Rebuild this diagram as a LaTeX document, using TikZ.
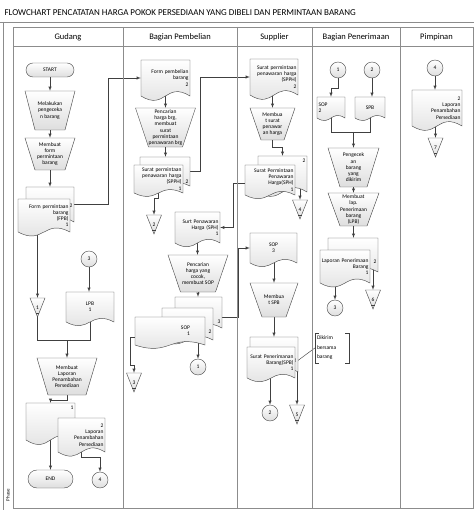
\documentclass[tikz,border=0pt]{standalone}
\usepackage{fontspec}
\setmainfont{Carlito}
\pgfdeclarelayer{latar}
\pgfsetlayers{latar,main}

% dokumen: [opsi]{nama}{x1}{y1}{x2}{y2}{teks}
\newcommand{\dokumen}[7][]{%
  \pgfmathsetmacro{\dokW}{#5-#3}%
  \pgfmathsetmacro{\dokH}{#6-#4}%
  \pgfmathsetmacro{\dokD}{0.42*\dokH}%
  \pgfmathsetmacro{\dokT}{\dokW-3}%
  \path[bentuk] (#3,#4) -- (#5,#4) -- (#5,#6)
    .. controls ({#5-0.5*\dokW},{#6-\dokD}) and ({#3+0.5*\dokW},{#6+\dokD}) .. (#3,#6) -- cycle;
  \node[isi,inner xsep=1.5pt,align=right,text width=\dokT pt,minimum width=\dokW pt,minimum height=\dokH pt,#1]
    (#2) at ({(#3+#5)/2},{(#4+#6)/2}) {#7};
}
% manual: {nama}{x}{atas}{bawah}{lebar atas}{lebar bawah}{teks}
\newcommand{\manual}[7]{%
  \pgfmathsetmacro{\manH}{#4-#3}%
  \path[bentuk] ({#2-#5/2},#3) -- ({#2+#5/2},#3) -- ({#2+#6/2},#4) -- ({#2-#6/2},#4) -- cycle;
  \node[isi,align=center,minimum width=#6pt,minimum height=\manH pt] (#1) at (#2,{(#3+#4)/2}) {#7};
}
% arsip: {nama}{x}{atas}{nomor}
\newcommand{\arsip}[4]{%
  \path[bentuk] ({#2-7.5},#3) -- ({#2+7.5},#3) -- (#2,{#3+19}) -- cycle;
  \draw[garis] ({#2-1.7},{#3+15}) -- ({#2+1.7},{#3+15});
  \node[isi,minimum width=15pt,minimum height=19pt] (#1) at (#2,{#3+9.5}) {#4};
}

\begin{document}
\begin{tikzpicture}[x=1pt,y=-1pt,
  bingkai/.style={draw=black!45,line width=0.5pt},
  garis/.style={draw=black!75,line width=0.45pt},
  alur/.style={garis,-latex},
  bentuk/.style={draw=black!70,line width=0.45pt,top color=white,bottom color=black!13},
  isi/.style={font=\fontsize{5.5}{6.2}\selectfont,inner sep=0pt},
  nomor/.style={isi,anchor=east,xshift=-1.5pt},
  terminal/.style={bentuk,isi,rectangle,rounded corners=7pt,minimum width=48pt,minimum height=14pt},
  sambung/.style={bentuk,isi,circle,minimum size=16pt},
  jalur/.style={font=\fontsize{8.5}{9}\selectfont}]
\useasboundingbox (0,0) rectangle (474,510);

\draw[bingkai] (0,22) -- (474,22);
\draw[bingkai] (3,22) -- (3,510);
\draw[bingkai] (13,27) rectangle (473,508);
\draw[bingkai] (13,46) -- (473,46);
\foreach \x in {123,237,312,400}
  \draw[bingkai] (\x,27) -- (\x,508);
\node[anchor=west,font=\fontsize{9}{10}\selectfont] (judul) at (1,13)
  {FLOWCHART PENCATATAN HARGA POKOK PERSEDIAAN YANG DIBELI DAN PERMINTAAN BARANG};
\node[jalur] (gudang) at (68,37) {Gudang};
\node[jalur] (pembelian) at (180,37) {Bagian Pembelian};
\node[jalur] (supplier) at (274.5,37) {Supplier};
\node[jalur] (penerimaan) at (356,37) {Bagian Penerimaan};
\node[jalur] (pimpinan) at (436.5,37) {Pimpinan};
\node[rotate=90,font=\fontsize{5}{6}\selectfont] (fase) at (8,495) {Phase};

% Gudang
\node[terminal] (mulai) at (50,70) {START};
\manual{periksa}{50}{91}{130}{50}{30}{Melakukan\\pengeceka\\n barang}
\manual{buatfpb}{50}{138}{170}{50}{30}{Membuat\\form\\permintaan\\barang}
\dokumen[label={[nomor,yshift=-1pt]east:2}]{fpbdua}{26}{187}{74}{222}{}
\dokumen{fpbsatu}{18}{199}{70}{232}{Form permintaan\\barang\\(FPB)\\1}
\arsip{simpan1}{37.5}{298}{1}
\node[sambung] (tiga) at (89,259) {3};
\dokumen[align=center]{lpbgud}{66}{292}{114}{322}{LPB\\1}
\manual{lapsedia}{67}{358}{395}{60}{38}{Membuat\\Laporan\\Penambahan\\Persediaan}
\dokumen[label={[nomor,anchor=north east,yshift=-3pt]north east:1}]{lpsatu}{26}{403}{75}{440}{}
\dokumen{lpdua}{58}{418}{105}{452}{2\\Laporan\\Penambahan\\Persediaan}
\node[terminal,minimum width=45pt,minimum height=18pt,rounded corners=9pt] (selesai) at (50.5,479) {END};
\node[sambung] (empat) at (100,480) {4};

% Bagian Pembelian
\dokumen{fpbbeli}{141}{60}{190}{96}{Form pembelian\\barang\\2}
\manual{cariharga}{165.5}{108}{147}{60}{34}{Pencarian\\harga brg,\\membuat\\surat\\permintaan\\penawaran brg}
\dokumen[label={[nomor,yshift=-10pt]east:2}]{spphdua}{140}{157}{190}{186}{}
\dokumen{spphsatu}{134}{165}{183}{193}{Surat permintaan\\penawaran harga\\(SPPH)\\1}
\arsip{simpan2}{154}{215}{2}
\dokumen{sph}{175}{212}{220}{243}{Surt Penawaran\\Harga (SPH)\\1}
\manual{cocok}{198}{255}{292}{60}{35}{Pencarian\\harga yang\\cocok,\\membuat SOP}
\dokumen[label={[nomor,yshift=-9pt]east:3}]{soptiga}{175}{297}{222}{328}{}
\dokumen[label={[nomor,yshift=-8pt]east:2}]{sopdua}{162}{308}{213}{340}{}
\dokumen[text width=40pt]{sopsatu}{135}{317}{205}{345}{SOP\\1}
\arsip{simpan3}{134}{373}{3}
\node[sambung] (satu) at (198,367) {1};

% Supplier
\dokumen{spphsup}{250}{59}{298}{95}{Surat permintaan\\penawaran harga\\(SPPH)\\2}
\manual{buatsph}{272.5}{108}{140}{45}{23}{Membua\\t surat\\penawar\\an harga}
\dokumen[label={[nomor,anchor=north east,yshift=-3pt]north east:2}]{sphdua}{258}{156}{307}{192}{}
\dokumen{sphsatu}{245}{165}{295}{195}{Surat Permintaan\\Penawaran\\Harga(SPH)\\1}
\arsip{simpan4}{300}{200}{4}
\dokumen[align=center]{sopsup}{250}{233}{297}{263}{SOP\\3}
\manual{buatspb}{274}{283}{317}{48}{24}{Membua\\t SPB}
\dokumen[label={[nomor,yshift=-6pt]east:2}]{spbdua}{250}{337}{298}{372}{}
\dokumen{spbsatu}{247}{347}{295}{378}{Surat Penerimanan\\Barang(SPB)\\1}
\arsip{simpan5}{297}{405}{5}
\node[sambung] (dua) at (270,413) {2};
\node[isi,font=\fontsize{5.5}{9.5}\selectfont,align=left,text width=30pt,inner xsep=2pt,minimum height=30pt] (catatan) at (332,348) {Dikirim\\bersama\\barang};
\draw[garis] ([xshift=4pt]catatan.north west) -- (catatan.north west) -- (catatan.south west) -- ([xshift=4pt]catatan.south west);
\draw[garis] ([xshift=-4pt]catatan.north east) -- (catatan.north east) -- (catatan.south east) -- ([xshift=-4pt]catatan.south east);

% Bagian Penerimaan
\node[sambung] (satuB) at (338,70) {1};
\node[sambung] (duaB) at (372,70) {2};
\dokumen[align=left]{soppen}{317}{97}{345}{118}{SOP\\2}
\dokumen[align=center]{spbpen}{355}{97}{385}{118}{SPB}
\manual{cekbarang}{353.5}{148}{187}{51}{27}{Pengecek\\an\\barang\\yang\\dikirim}
\manual{buatlpb}{353.5}{193}{226}{51}{27}{Membuat\\lap.\\Penerimaan\\barang\\(LPB)}
\dokumen[label={[nomor,yshift=-7pt]east:2}]{lpbdua}{328}{238}{378}{272}{}
\dokumen{lpbsatu}{320}{250}{370}{283}{Laporan Penerimaan\\Barang\\1}
\arsip{simpan6}{373}{290}{6}
\node[sambung] (tigaB) at (335,308) {3};

% Pimpinan
\node[sambung] (empatB) at (435,68) {4};
\dokumen{lppimp}{412}{90}{462}{126}{2\\Laporan\\Penambahan\\Persediaan}
\arsip{simpan7}{435.5}{138}{7}

\begin{pgfonlayer}{latar}
\draw[alur] (mulai) -- (periksa);
\draw[alur] (periksa) -- (buatfpb);
\draw[alur] (buatfpb.south) -- (fpbdua.north);
\draw[alur] (fpbdua.east) -- ++(34,0) |- (fpbbeli.west);
\draw[alur] (simpan1.north |- fpbsatu.center) -- (simpan1.north);
\draw[alur] (tiga.south) -- (tiga.south |- lpbgud.north);
\coordinate (gabung1) at (67,340);
\draw[garis] (simpan1.south) |- (gabung1);
\draw[garis] (lpbgud.center) |- (gabung1);
\draw[alur] (gabung1) -- (lapsedia.north);
\draw[alur] (lapsedia.south) -- ++(0,5) -| (lpsatu.north);
\draw[alur] (selesai.north |- lpsatu.center) -- (selesai.north);
\draw[alur] (lpdua.center) -- ++(0,22) -| (empat.north);

\draw[alur] (fpbbeli) -- (cariharga);
\draw[alur] (cariharga.south) -- (cariharga.south |- spphdua.north);
\draw[alur] (spphdua.east) -- ++(10,0) |- (spphsup.west);
\draw[alur] (spphsatu.center) -- ++(0,19) -| (simpan2.north);
\draw[alur] (sph.south) -- (sph.south |- cocok.north);
\draw[alur] (cocok.south) -- (cocok.south |- soptiga.north);
\draw[alur] ([yshift=-5pt]soptiga.east) -- ++(16,0) |- (sopsup.west);
\draw[alur] (satu.north |- sopdua.center) -- (satu.north);
\draw[alur] ([yshift=-6pt]sopsatu.west) -- ++(-5,0) -- ++(0,28) -| (simpan3.north);

\draw[alur] (buatsph.north |- spphsup.center) -- (buatsph.north);
\draw[alur] (buatsph.south) -- ++(0,7) -| (sphdua.north);
\draw[alur] ([yshift=-3pt]sphsatu.west) -- ++(-12,0) |- (sph.east);
\draw[alur] (simpan4.north |- sphdua.center) -- (simpan4.north);
\draw[alur] (buatspb.north |- sopsup.center) -- (buatspb.north);
\draw[alur] (buatspb.south) -- (buatspb.south |- spbdua.north);
\draw[garis] (catatan.west) -- (spbsatu.east);
\draw[alur] (dua.north |- spbsatu.center) -- (dua.north);
\draw[alur] (simpan5.north |- spbdua.center) -- (simpan5.north);

\draw[alur] (satuB.south) -- ++(0,10) -| (soppen.north);
\draw[alur] (duaB.south) -- (duaB.south |- spbpen.north);
\coordinate (gabung2) at (353.5,132);
\draw[garis] (soppen.center) |- (gabung2);
\draw[garis] (spbpen.center) |- (gabung2);
\draw[alur] (gabung2) -- (cekbarang.north);
\draw[alur] (cekbarang) -- (buatlpb);
\draw[alur] (buatlpb.south) -- (buatlpb.south |- lpbdua.north);
\draw[alur] (tigaB.north |- lpbsatu.center) -- (tigaB.north);
\draw[alur] (simpan6.north |- lpbdua.center) -- (simpan6.north);

\draw[alur] (empatB.south) -- (empatB.south |- lppimp.north);
\draw[alur] (simpan7.north |- lppimp.center) -- (simpan7.north);
\end{pgfonlayer}
\end{tikzpicture}
\end{document}
